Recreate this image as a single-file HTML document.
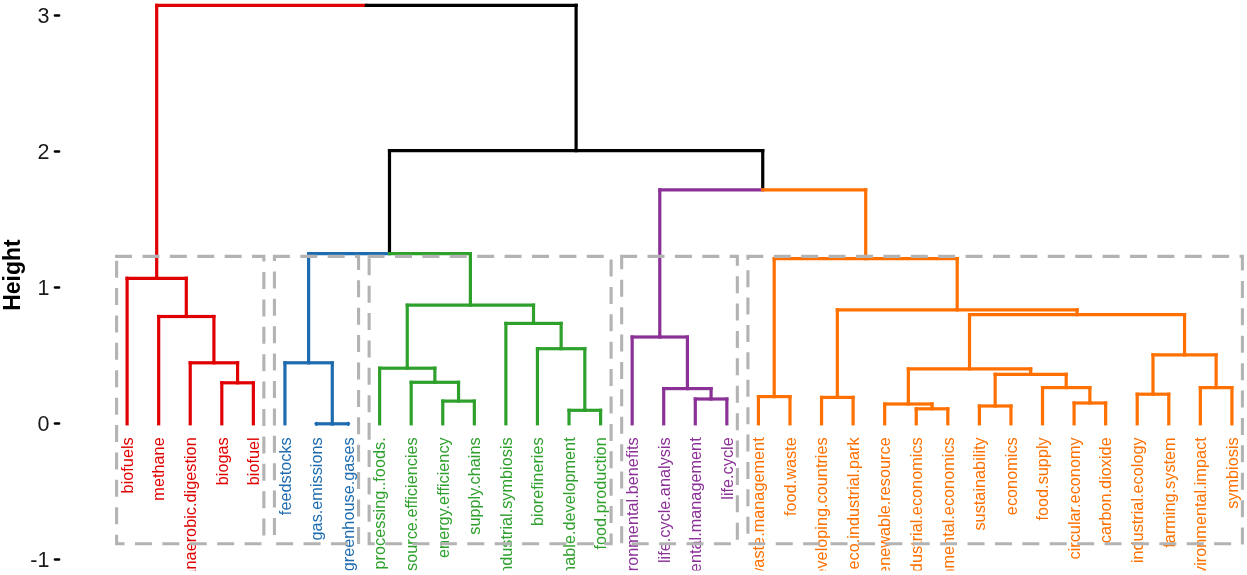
<!DOCTYPE html>
<html><head><meta charset="utf-8"><title>Dendrogram</title>
<style>
html,body{margin:0;padding:0;background:#fff;overflow:hidden}
svg{display:block;font-family:"Liberation Sans",sans-serif}
</style></head><body>
<svg width="1247" height="575" viewBox="0 0 1247 575">
<rect width="1247" height="575" fill="#fff"/>
<g fill="none" stroke-width="3.2" stroke-linecap="square" transform="translate(0 0.3)">
<path d="M366.40 5.00L156.69 5.00" stroke="#E10000"/>
<path d="M366.40 5.00L576.11 5.00" stroke="#000000"/>
<path d="M156.69 3.40L156.69 278.00" stroke="#E10000" stroke-linecap="butt"/>
<path d="M576.11 3.40L576.11 150.30" stroke="#000000" stroke-linecap="butt"/>
<path d="M156.69 278.00L127.10 278.00" stroke="#E10000"/>
<path d="M156.69 278.00L186.29 278.00" stroke="#E10000"/>
<path d="M127.10 276.40L127.10 425.10" stroke="#E10000" stroke-linecap="butt"/>
<path d="M186.29 276.40L186.29 316.20" stroke="#E10000" stroke-linecap="butt"/>
<path d="M186.29 316.20L158.67 316.20" stroke="#E10000"/>
<path d="M186.29 316.20L213.91 316.20" stroke="#E10000"/>
<path d="M158.67 314.60L158.67 425.10" stroke="#E10000" stroke-linecap="butt"/>
<path d="M213.91 314.60L213.91 362.50" stroke="#E10000" stroke-linecap="butt"/>
<path d="M213.91 362.50L190.23 362.50" stroke="#E10000"/>
<path d="M213.91 362.50L237.58 362.50" stroke="#E10000"/>
<path d="M190.23 360.90L190.23 425.10" stroke="#E10000" stroke-linecap="butt"/>
<path d="M237.58 360.90L237.58 382.50" stroke="#E10000" stroke-linecap="butt"/>
<path d="M237.58 382.50L221.80 382.50" stroke="#E10000"/>
<path d="M237.58 382.50L253.36 382.50" stroke="#E10000"/>
<path d="M221.80 380.90L221.80 425.10" stroke="#E10000" stroke-linecap="butt"/>
<path d="M253.36 380.90L253.36 425.10" stroke="#E10000" stroke-linecap="butt"/>
<path d="M576.11 150.30L389.49 150.30" stroke="#000000"/>
<path d="M576.11 150.30L762.74 150.30" stroke="#000000"/>
<path d="M389.49 148.70L389.49 253.40" stroke="#000000" stroke-linecap="butt"/>
<path d="M762.74 148.70L762.74 189.60" stroke="#000000" stroke-linecap="butt"/>
<path d="M389.49 253.40L308.60 253.40" stroke="#1E6BB0"/>
<path d="M389.49 253.40L470.38 253.40" stroke="#2EA02C"/>
<path d="M308.60 251.80L308.60 362.50" stroke="#1E6BB0" stroke-linecap="butt"/>
<path d="M470.38 251.80L470.38 304.90" stroke="#2EA02C" stroke-linecap="butt"/>
<path d="M308.60 362.50L284.93 362.50" stroke="#1E6BB0"/>
<path d="M308.60 362.50L332.28 362.50" stroke="#1E6BB0"/>
<path d="M284.93 360.90L284.93 425.10" stroke="#1E6BB0" stroke-linecap="butt"/>
<path d="M332.28 360.90L332.28 425.10" stroke="#1E6BB0" stroke-linecap="butt"/>
<path d="M332.28 423.50L316.50 423.50" stroke="#1E6BB0"/>
<path d="M332.28 423.50L348.06 423.50" stroke="#1E6BB0"/>
<path d="M470.38 304.90L407.25 304.90" stroke="#2EA02C"/>
<path d="M470.38 304.90L533.51 304.90" stroke="#2EA02C"/>
<path d="M407.25 303.30L407.25 367.90" stroke="#2EA02C" stroke-linecap="butt"/>
<path d="M533.51 303.30L533.51 323.10" stroke="#2EA02C" stroke-linecap="butt"/>
<path d="M407.25 367.90L379.63 367.90" stroke="#2EA02C"/>
<path d="M407.25 367.90L434.87 367.90" stroke="#2EA02C"/>
<path d="M379.63 366.30L379.63 425.10" stroke="#2EA02C" stroke-linecap="butt"/>
<path d="M434.87 366.30L434.87 382.00" stroke="#2EA02C" stroke-linecap="butt"/>
<path d="M434.87 382.00L411.19 382.00" stroke="#2EA02C"/>
<path d="M434.87 382.00L458.54 382.00" stroke="#2EA02C"/>
<path d="M411.19 380.40L411.19 425.10" stroke="#2EA02C" stroke-linecap="butt"/>
<path d="M458.54 380.40L458.54 400.80" stroke="#2EA02C" stroke-linecap="butt"/>
<path d="M458.54 400.80L442.76 400.80" stroke="#2EA02C"/>
<path d="M458.54 400.80L474.33 400.80" stroke="#2EA02C"/>
<path d="M442.76 399.20L442.76 425.10" stroke="#2EA02C" stroke-linecap="butt"/>
<path d="M474.33 399.20L474.33 425.10" stroke="#2EA02C" stroke-linecap="butt"/>
<path d="M533.51 323.10L505.89 323.10" stroke="#2EA02C"/>
<path d="M533.51 323.10L561.13 323.10" stroke="#2EA02C"/>
<path d="M505.89 321.50L505.89 425.10" stroke="#2EA02C" stroke-linecap="butt"/>
<path d="M561.13 321.50L561.13 348.40" stroke="#2EA02C" stroke-linecap="butt"/>
<path d="M561.13 348.40L537.46 348.40" stroke="#2EA02C"/>
<path d="M561.13 348.40L584.81 348.40" stroke="#2EA02C"/>
<path d="M537.46 346.80L537.46 425.10" stroke="#2EA02C" stroke-linecap="butt"/>
<path d="M584.81 346.80L584.81 410.00" stroke="#2EA02C" stroke-linecap="butt"/>
<path d="M584.81 410.00L569.02 410.00" stroke="#2EA02C"/>
<path d="M584.81 410.00L600.59 410.00" stroke="#2EA02C"/>
<path d="M569.02 408.40L569.02 425.10" stroke="#2EA02C" stroke-linecap="butt"/>
<path d="M600.59 408.40L600.59 425.10" stroke="#2EA02C" stroke-linecap="butt"/>
<path d="M762.74 189.60L659.78 189.60" stroke="#8A3096"/>
<path d="M762.74 189.60L865.70 189.60" stroke="#FF7000"/>
<path d="M659.78 188.00L659.78 336.70" stroke="#8A3096" stroke-linecap="butt"/>
<path d="M865.70 188.00L865.70 258.40" stroke="#FF7000" stroke-linecap="butt"/>
<path d="M659.78 336.70L632.16 336.70" stroke="#8A3096"/>
<path d="M659.78 336.70L687.40 336.70" stroke="#8A3096"/>
<path d="M632.16 335.10L632.16 425.10" stroke="#8A3096" stroke-linecap="butt"/>
<path d="M687.40 335.10L687.40 388.30" stroke="#8A3096" stroke-linecap="butt"/>
<path d="M687.40 388.30L663.72 388.30" stroke="#8A3096"/>
<path d="M687.40 388.30L711.07 388.30" stroke="#8A3096"/>
<path d="M663.72 386.70L663.72 425.10" stroke="#8A3096" stroke-linecap="butt"/>
<path d="M711.07 386.70L711.07 398.70" stroke="#8A3096" stroke-linecap="butt"/>
<path d="M711.07 398.70L695.29 398.70" stroke="#8A3096"/>
<path d="M711.07 398.70L726.85 398.70" stroke="#8A3096"/>
<path d="M695.29 397.10L695.29 425.10" stroke="#8A3096" stroke-linecap="butt"/>
<path d="M726.85 397.10L726.85 425.10" stroke="#8A3096" stroke-linecap="butt"/>
<path d="M865.70 258.40L774.20 258.40" stroke="#FF7000"/>
<path d="M865.70 258.40L957.19 258.40" stroke="#FF7000"/>
<path d="M774.20 256.80L774.20 396.30" stroke="#FF7000" stroke-linecap="butt"/>
<path d="M957.19 256.80L957.19 309.50" stroke="#FF7000" stroke-linecap="butt"/>
<path d="M774.20 396.30L758.42 396.30" stroke="#FF7000"/>
<path d="M774.20 396.30L789.99 396.30" stroke="#FF7000"/>
<path d="M758.42 394.70L758.42 425.10" stroke="#FF7000" stroke-linecap="butt"/>
<path d="M789.99 394.70L789.99 425.10" stroke="#FF7000" stroke-linecap="butt"/>
<path d="M957.19 309.50L837.34 309.50" stroke="#FF7000"/>
<path d="M957.19 309.50L1077.04 309.50" stroke="#FF7000"/>
<path d="M837.34 307.90L837.34 397.10" stroke="#FF7000" stroke-linecap="butt"/>
<path d="M1077.04 307.90L1077.04 314.30" stroke="#FF7000" stroke-linecap="butt"/>
<path d="M837.34 397.10L821.55 397.10" stroke="#FF7000"/>
<path d="M837.34 397.10L853.12 397.10" stroke="#FF7000"/>
<path d="M821.55 395.50L821.55 425.10" stroke="#FF7000" stroke-linecap="butt"/>
<path d="M853.12 395.50L853.12 425.10" stroke="#FF7000" stroke-linecap="butt"/>
<path d="M1077.04 314.30L969.52 314.30" stroke="#FF7000"/>
<path d="M1077.04 314.30L1184.56 314.30" stroke="#FF7000"/>
<path d="M969.52 312.70L969.52 368.60" stroke="#FF7000" stroke-linecap="butt"/>
<path d="M1184.56 312.70L1184.56 354.50" stroke="#FF7000" stroke-linecap="butt"/>
<path d="M969.52 368.60L908.36 368.60" stroke="#FF7000"/>
<path d="M969.52 368.60L1030.68 368.60" stroke="#FF7000"/>
<path d="M908.36 367.00L908.36 403.70" stroke="#FF7000" stroke-linecap="butt"/>
<path d="M1030.68 367.00L1030.68 374.00" stroke="#FF7000" stroke-linecap="butt"/>
<path d="M908.36 403.70L884.68 403.70" stroke="#FF7000"/>
<path d="M908.36 403.70L932.03 403.70" stroke="#FF7000"/>
<path d="M884.68 402.10L884.68 425.10" stroke="#FF7000" stroke-linecap="butt"/>
<path d="M932.03 402.10L932.03 408.50" stroke="#FF7000" stroke-linecap="butt"/>
<path d="M932.03 408.50L916.25 408.50" stroke="#FF7000"/>
<path d="M932.03 408.50L947.82 408.50" stroke="#FF7000"/>
<path d="M916.25 406.90L916.25 425.10" stroke="#FF7000" stroke-linecap="butt"/>
<path d="M947.82 406.90L947.82 425.10" stroke="#FF7000" stroke-linecap="butt"/>
<path d="M1030.68 374.00L995.16 374.00" stroke="#FF7000"/>
<path d="M1030.68 374.00L1066.19 374.00" stroke="#FF7000"/>
<path d="M995.16 372.40L995.16 405.70" stroke="#FF7000" stroke-linecap="butt"/>
<path d="M1066.19 372.40L1066.19 387.30" stroke="#FF7000" stroke-linecap="butt"/>
<path d="M995.16 405.70L979.38 405.70" stroke="#FF7000"/>
<path d="M995.16 405.70L1010.95 405.70" stroke="#FF7000"/>
<path d="M979.38 404.10L979.38 425.10" stroke="#FF7000" stroke-linecap="butt"/>
<path d="M1010.95 404.10L1010.95 425.10" stroke="#FF7000" stroke-linecap="butt"/>
<path d="M1066.19 387.30L1042.51 387.30" stroke="#FF7000"/>
<path d="M1066.19 387.30L1089.86 387.30" stroke="#FF7000"/>
<path d="M1042.51 385.70L1042.51 425.10" stroke="#FF7000" stroke-linecap="butt"/>
<path d="M1089.86 385.70L1089.86 402.70" stroke="#FF7000" stroke-linecap="butt"/>
<path d="M1089.86 402.70L1074.08 402.70" stroke="#FF7000"/>
<path d="M1089.86 402.70L1105.65 402.70" stroke="#FF7000"/>
<path d="M1074.08 401.10L1074.08 425.10" stroke="#FF7000" stroke-linecap="butt"/>
<path d="M1105.65 401.10L1105.65 425.10" stroke="#FF7000" stroke-linecap="butt"/>
<path d="M1184.56 354.50L1152.99 354.50" stroke="#FF7000"/>
<path d="M1184.56 354.50L1216.13 354.50" stroke="#FF7000"/>
<path d="M1152.99 352.90L1152.99 393.90" stroke="#FF7000" stroke-linecap="butt"/>
<path d="M1216.13 352.90L1216.13 387.30" stroke="#FF7000" stroke-linecap="butt"/>
<path d="M1152.99 393.90L1137.21 393.90" stroke="#FF7000"/>
<path d="M1152.99 393.90L1168.78 393.90" stroke="#FF7000"/>
<path d="M1137.21 392.30L1137.21 425.10" stroke="#FF7000" stroke-linecap="butt"/>
<path d="M1168.78 392.30L1168.78 425.10" stroke="#FF7000" stroke-linecap="butt"/>
<path d="M1216.13 387.30L1200.34 387.30" stroke="#FF7000"/>
<path d="M1216.13 387.30L1231.91 387.30" stroke="#FF7000"/>
<path d="M1200.34 385.70L1200.34 425.10" stroke="#FF7000" stroke-linecap="butt"/>
<path d="M1231.91 385.70L1231.91 425.10" stroke="#FF7000" stroke-linecap="butt"/>
</g>
<path d="M314.10 423.80l2.4 -2.4l2.4 2.4l-2.4 2.4z" fill="#1E6BB0"/>
<path d="M345.66 423.80l2.4 -2.4l2.4 2.4l-2.4 2.4z" fill="#1E6BB0"/>
<clipPath id="c"><rect x="0" y="0" width="1247" height="570.4"/></clipPath>
<g font-size="16.3" text-anchor="end" clip-path="url(#c)">
<text transform="translate(132.90 437.3) rotate(-90)" fill="#E10000">biofuels</text>
<text transform="translate(164.47 437.3) rotate(-90)" fill="#E10000">methane</text>
<text transform="translate(196.03 437.3) rotate(-90)" fill="#E10000">anaerobic.digestion</text>
<text transform="translate(227.60 437.3) rotate(-90)" fill="#E10000">biogas</text>
<text transform="translate(259.16 437.3) rotate(-90)" fill="#E10000">biofuel</text>
<text transform="translate(290.73 437.3) rotate(-90)" fill="#1E6BB0">feedstocks</text>
<text transform="translate(322.30 437.3) rotate(-90)" fill="#1E6BB0">gas.emissions</text>
<text transform="translate(353.86 437.3) rotate(-90)" fill="#1E6BB0">greenhouse.gases</text>
<text transform="translate(385.43 437.3) rotate(-90)" fill="#2EA02C">processing..foods.</text>
<text transform="translate(416.99 437.3) rotate(-90)" fill="#2EA02C">resource.efficiencies</text>
<text transform="translate(448.56 437.3) rotate(-90)" fill="#2EA02C">energy.efficiency</text>
<text transform="translate(480.13 437.3) rotate(-90)" fill="#2EA02C">supply.chains</text>
<text transform="translate(511.69 437.3) rotate(-90)" fill="#2EA02C">industrial.symbiosis</text>
<text transform="translate(543.26 437.3) rotate(-90)" fill="#2EA02C">biorefineries</text>
<text transform="translate(574.82 437.3) rotate(-90)" fill="#2EA02C">sustainable.development</text>
<text transform="translate(606.39 437.3) rotate(-90)" fill="#2EA02C">food.production</text>
<text transform="translate(637.96 437.3) rotate(-90)" fill="#8A3096">environmental.benefits</text>
<text transform="translate(669.52 437.3) rotate(-90)" fill="#8A3096">life.cycle.analysis</text>
<text transform="translate(701.09 437.3) rotate(-90)" fill="#8A3096">environmental.management</text>
<text transform="translate(732.65 437.3) rotate(-90)" fill="#8A3096">life.cycle</text>
<text transform="translate(764.22 437.3) rotate(-90)" fill="#FF7000">waste.management</text>
<text transform="translate(795.79 437.3) rotate(-90)" fill="#FF7000">food.waste</text>
<text transform="translate(827.35 437.3) rotate(-90)" fill="#FF7000">developing.countries</text>
<text transform="translate(858.92 437.3) rotate(-90)" fill="#FF7000">eco.industrial.park</text>
<text transform="translate(890.48 437.3) rotate(-90)" fill="#FF7000">renewable.resource</text>
<text transform="translate(922.05 437.3) rotate(-90)" fill="#FF7000">industrial.economics</text>
<text transform="translate(953.62 437.3) rotate(-90)" fill="#FF7000">environmental.economics</text>
<text transform="translate(985.18 437.3) rotate(-90)" fill="#FF7000">sustainability</text>
<text transform="translate(1016.75 437.3) rotate(-90)" fill="#FF7000">economics</text>
<text transform="translate(1048.31 437.3) rotate(-90)" fill="#FF7000">food.supply</text>
<text transform="translate(1079.88 437.3) rotate(-90)" fill="#FF7000">circular.economy</text>
<text transform="translate(1111.45 437.3) rotate(-90)" fill="#FF7000">carbon.dioxide</text>
<text transform="translate(1143.01 437.3) rotate(-90)" fill="#FF7000">industrial.ecology</text>
<text transform="translate(1174.58 437.3) rotate(-90)" fill="#FF7000">farming.system</text>
<text transform="translate(1206.14 437.3) rotate(-90)" fill="#FF7000">environmental.impact</text>
<text transform="translate(1237.71 437.3) rotate(-90)" fill="#FF7000">symbiosis</text>
</g>
<g fill="none" stroke="#B3B3B3" stroke-width="3.1" stroke-linecap="square" stroke-dasharray="13.9 13.5">
<path d="M116.60 256.40L263.86 256.40L263.86 543.70L116.60 543.70L116.60 256.40"/>
<path d="M274.43 256.40L358.56 256.40L358.56 543.70L274.43 543.70L274.43 256.40"/>
<path d="M369.13 256.40L611.09 256.40L611.09 543.70L369.13 543.70L369.13 256.40"/>
<path d="M621.66 256.40L737.35 256.40L737.35 543.70L621.66 543.70L621.66 256.40"/>
<path d="M747.92 256.40L1242.41 256.40L1242.41 543.70L747.92 543.70L747.92 256.40"/>
</g>
<g font-size="21.5" text-anchor="end" fill="#1a1a1a">
<text x="49.4" y="23.10">3</text>
<text x="49.4" y="159.10">2</text>
<text x="49.4" y="295.10">1</text>
<text x="49.4" y="431.10">0</text>
<text x="49.4" y="567.10">-1</text>
</g>
<g stroke="#000" stroke-width="2.6" stroke-linecap="round">
<path d="M55 15.50L59 15.50"/>
<path d="M55 151.50L59 151.50"/>
<path d="M55 287.50L59 287.50"/>
<path d="M55 423.50L59 423.50"/>
<path d="M55 559.50L59 559.50"/>
</g>
<text transform="translate(19.6 275) rotate(-90)" text-anchor="middle" font-size="23" font-weight="bold" fill="#000">Height</text>
</svg>
</body></html>
